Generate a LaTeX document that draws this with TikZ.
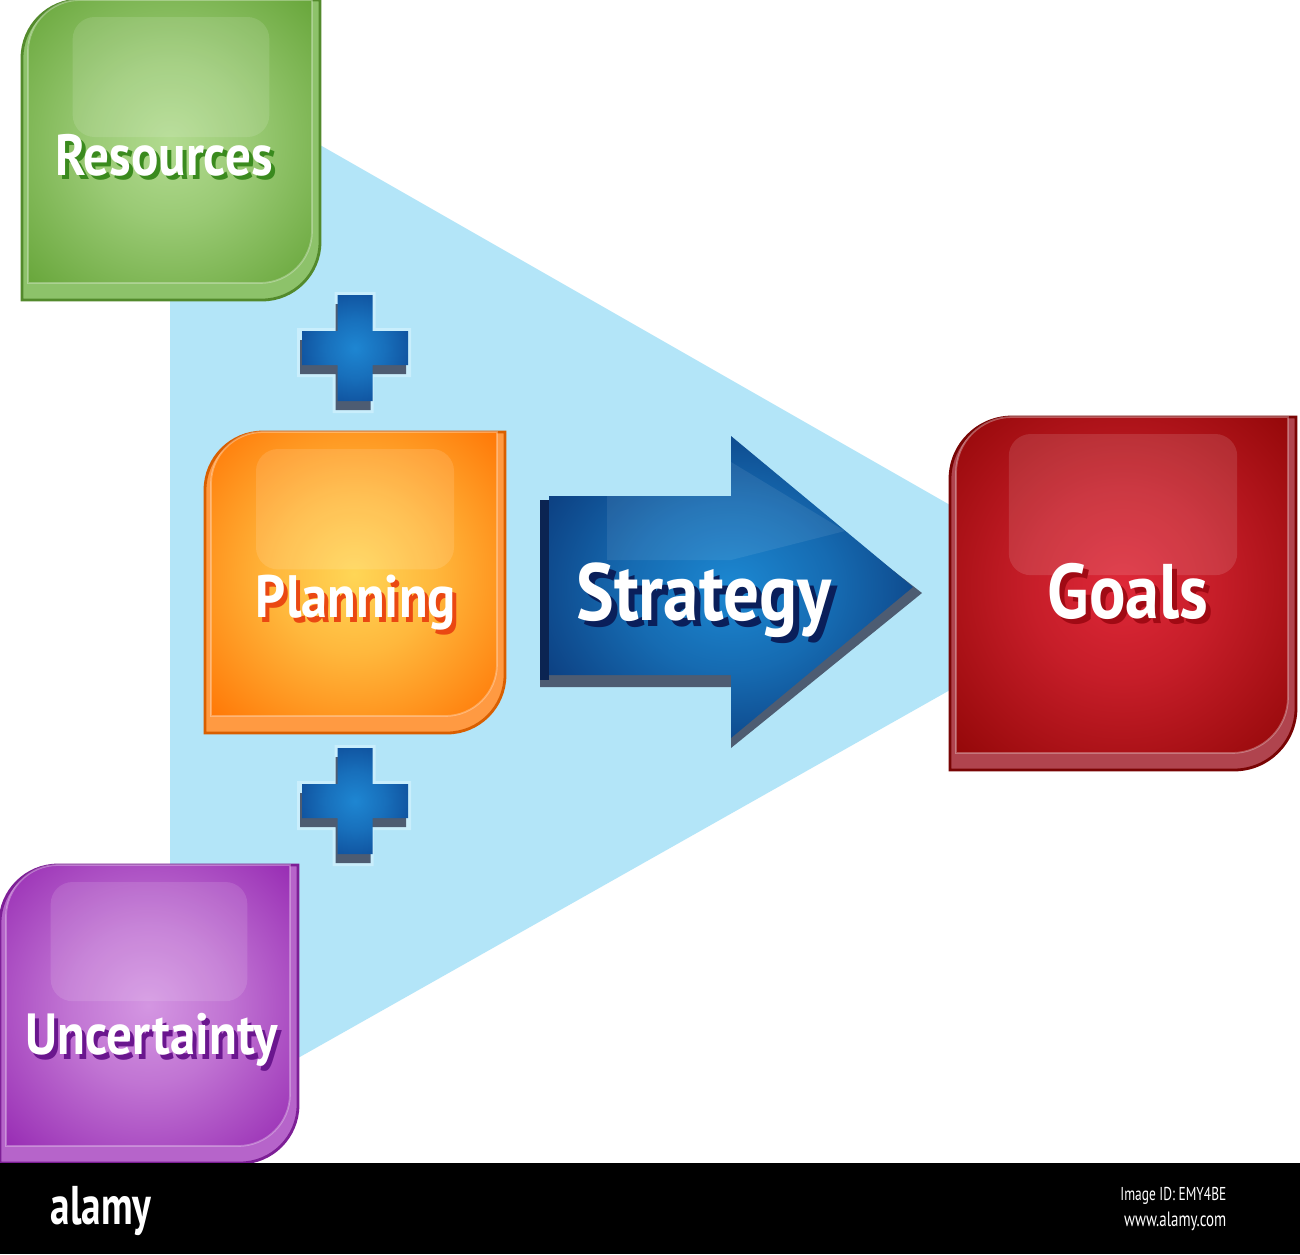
\documentclass[tikz,border=0pt]{standalone}
\usepackage{fontspec}
\newfontfamily\lblfont[FakeStretch=0.88]{PT Sans}
\newfontfamily\logofont[FakeStretch=0.72]{PT Sans}
\pgfdeclareradialshading[gin,gout]{glow}{\pgfpoint{0bp}{0bp}}{color(0bp)=(gin); color(14bp)=(gin!70!gout); color(38bp)=(gout); color(50bp)=(gout)}
\definecolor{sky}{HTML}{B3E5F8}
\definecolor{plusshadow}{HTML}{4D5C72}
\definecolor{plusglow}{HTML}{C9EEFC}
\definecolor{navyedge}{HTML}{0B2452}
\definecolor{plusin}{HTML}{1E86D2}
\definecolor{plusout}{HTML}{093A86}
\definecolor{arrin}{HTML}{1C88D2}
\definecolor{arrout}{HTML}{072766}
\definecolor{grout}{HTML}{62A234}\definecolor{grin}{HTML}{B2DB90}\definecolor{grbev}{HTML}{8DC26A}\definecolor{grsh}{HTML}{3A8A1E}
\definecolor{orout}{HTML}{FF7000}\definecolor{orin}{HTML}{FFD656}\definecolor{orbev}{HTML}{FF9A42}\definecolor{orsh}{HTML}{EA4812}
\definecolor{rdout}{HTML}{8E0505}\definecolor{rdin}{HTML}{DE2838}\definecolor{rdbev}{HTML}{B0444E}\definecolor{rdsh}{HTML}{A00A14}
\definecolor{puout}{HTML}{9324B0}\definecolor{puin}{HTML}{D496E2}\definecolor{pubev}{HTML}{B664CA}\definecolor{push}{HTML}{6A168E}
\definecolor{stsh}{HTML}{0A1F5A}
\newcommand\glosspath[6]{%
  \path[#6] ({#1},{#4}) -- ({#1},{(#2)+(#5)})
    .. controls ({#1},{(#2)+0.448*(#5)}) and ({(#1)+0.448*(#5)},{#2}) .. ({(#1)+(#5)},{#2})
    -- ({#3},{#2}) -- ({#3},{(#4)-(#5)})
    .. controls ({#3},{(#4)-0.448*(#5)}) and ({(#3)-0.448*(#5)},{#4}) .. ({(#3)-(#5)},{#4})
    -- cycle;}
% x1 y1 x2 y2 r outer centre bevel
\newcommand\gbox[8]{%
  \glosspath{#1}{#2}{#3}{#4}{#5}{fill=#8, draw=#6!85!black, line width=0.8pt}%
  \colorlet{gin}{#7}\colorlet{gout}{#6}%
  \glosspath{(#1)+6}{#2}{(#3)-8}{(#4)-17}{(#5)-6}{shade, shading=glow}%
  \glosspath{(#1)+6}{#2}{(#3)-8}{(#4)-17}{(#5)-6}{draw=white, draw opacity=0.3, line width=0.5pt}%
  \fill[white, fill opacity=0.12, rounded corners=0.22cm]
    ({(#1)+0.17*((#3)-(#1))},{(#2)+17}) rectangle ({(#3)-0.17*((#3)-(#1))},{(#2)+17+0.40*((#4)-(#2))});%
}
\newcommand\plusmark[2]{%
  \begin{scope}[shift={(#1,#2)}]
    \fill[plusglow] (-20.5,-56) -- (20.5,-56) -- (20.5,-20) -- (56,-20) -- (56,29) -- (18.5,29) -- (18.5,65)
      -- (-22.5,65) -- (-22.5,29) -- (-58,29) -- (-58,-20) -- (-20.5,-20) -- cycle;
    \fill[plusshadow] (-19.5,-44) -- (15.5,-44) -- (15.5,-8) -- (51,-8) -- (51,26) -- (15.5,26) -- (15.5,62)
      -- (-19.5,62) -- (-19.5,26) -- (-55,26) -- (-55,-8) -- (-19.5,-8) -- cycle;
    \colorlet{gin}{plusin}\colorlet{gout}{plusout}
    \path[shade, shading=glow] (-17.5,-53) -- (17.5,-53) -- (17.5,-17) -- (53,-17) -- (53,17) -- (17.5,17) -- (17.5,53)
      -- (-17.5,53) -- (-17.5,17) -- (-53,17) -- (-53,-17) -- (-17.5,-17) -- cycle;
  \end{scope}}
\begin{document}
\begin{tikzpicture}[x=0.01cm,y=-0.01cm,
  lbl/.style={font=\lblfont\bfseries\fontsize{16.5}{18}\selectfont, text=white, anchor=base, inner sep=0pt},
  midlbl/.style={lbl, font=\lblfont\bfseries\fontsize{17}{19}\selectfont},
  biglbl/.style={lbl, font=\lblfont\bfseries\fontsize{23}{26}\selectfont},
  goallbl/.style={lbl, font=\lblfont\bfseries\fontsize{22}{25}\selectfont},
  footer/.style={font=\logofont\fontsize{5.3}{6}\selectfont, text=white, anchor=base east, inner sep=0pt}]
\useasboundingbox (0,0) rectangle (1300,1254);
\fill[white] (0,0) rectangle (1300,1254);

% light blue funnel
\fill[sky] (170,145) -- (320,145) -- (950,505) -- (950,690) -- (298,1058) -- (170,1058) -- cycle;

% boxes
\gbox{22}{0}{320}{300}{58}{grout}{grin}{grbev}
\gbox{205}{432}{505}{733}{58}{orout}{orin}{orbev}
\gbox{950}{417}{1296}{770}{62}{rdout}{rdin}{rdbev}
\gbox{0}{865}{298}{1163}{58}{puout}{puin}{pubev}

% plus signs
\plusmark{355}{348}
\plusmark{355}{801}

% strategy arrow
\fill[plusshadow] (540,500) -- (731,500) -- (731,445) -- (922,593) -- (731,748) -- (731,687) -- (540,687) -- cycle;
\fill[navyedge] (540,500) rectangle (549,680);
\colorlet{gin}{arrin}\colorlet{gout}{arrout}
\path[shade, shading=glow] (549,496) -- (731,496) -- (731,436) -- (913,587) -- (731,738) -- (731,675) -- (549,675) -- cycle;
\fill[white, fill opacity=0.08] (607,496) -- (731,496) -- (731,462) -- (845,531) -- (731,560) -- (607,560) -- cycle;

% labels
\node[lbl, text=grsh] (res-s) at (168,179) {Resources};
\node[lbl] (res) at (164,175) {Resources};
\node[midlbl, text=orsh] (plan-s) at (360,622) {Planning};
\node[midlbl] (plan) at (356,617) {Planning};
\node[biglbl, text=stsh] (strat-s) at (710,626) {Strategy};
\node[biglbl] (strat) at (704,620) {Strategy};
\node[goallbl, text=rdsh] (goals-s) at (1133,623) {Goals};
\node[goallbl] (goals) at (1128,618) {Goals};
\node[lbl, text=push] (unc-s) at (156,1059) {Uncertainty};
\node[lbl] (unc) at (152,1054) {Uncertainty};

% footer bar
\fill[black] (0,1163) rectangle (1300,1254);
\node[font=\logofont\bfseries\fontsize{15.5}{17}\selectfont, text=white, anchor=base, inner sep=0pt] (logo) at (101,1224) {alamy};
\node[footer] (imgid) at (1227,1200) {Image ID: EMY4BE};
\node[footer, font=\logofont\fontsize{5.9}{7}\selectfont] (web) at (1227,1226) {www.alamy.com};
\end{tikzpicture}
\end{document}
